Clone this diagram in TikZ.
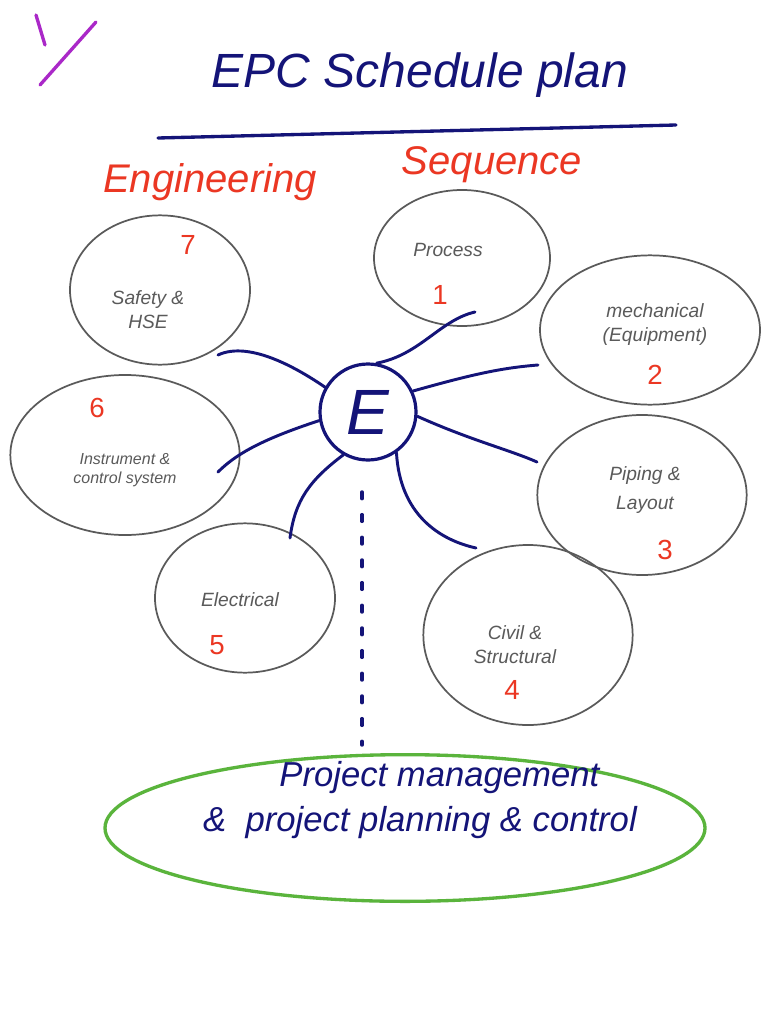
\documentclass[tikz,border=0pt]{standalone}
\usepackage{fontspec}
\setmainfont{Liberation Sans}
\usetikzlibrary{shapes.geometric}
\definecolor{navy}{RGB}{20,20,120}
\definecolor{hred}{RGB}{235,55,35}
\definecolor{hgray}{RGB}{90,90,90}
\definecolor{hgreen}{RGB}{90,180,60}
\definecolor{hpurple}{RGB}{170,40,200}
\begin{document}
\begin{tikzpicture}[x=0.75pt,y=-0.75pt,
  bub/.style={draw=hgray,line width=1.3pt,ellipse,inner sep=0pt},
  lab/.style={text=hgray,font=\Large\itshape,align=center},
  num/.style={text=hred,font=\huge},
  hd/.style={text=hred,font=\fontsize{30}{34}\selectfont\itshape},
  link/.style={draw=navy,line width=2.2pt,line cap=round}]
\useasboundingbox (0,0) rectangle (768,1024);
\fill[white] (0,0) rectangle (768,1024);
\draw[hpurple,line width=2.5pt,line cap=round] (36,15) -- (45,45) (96,22) -- (40,85);
\node[text=navy,font=\fontsize{36}{40}\selectfont\itshape] (title) at (420,75) {EPC Schedule plan};
\coordinate (ula) at (158,138); \coordinate (ulb) at (676,125);
\draw[navy,line width=2.5pt,line cap=round] (ula) -- (ulb);
\node[hd] (eng) at (210,182) {Engineering};
\node[hd] (seq) at (492,165) {Sequence};
\node[bub,minimum width=132pt,minimum height=102pt] (p) at (462,258) {};
\node[lab] at (448,250) {Process};
\node[num] (n1) at (440,295) {1};
\node[bub,minimum width=165pt,minimum height=112pt] (m) at (650,330) {};
\node[lab] at (655,325) {mechanical\\(Equipment)};
\node[num] at (655,375) {2};
\node[bub,minimum width=157pt,minimum height=120pt] (pi) at (642,495) {};
\node[lab] at (645,490) {Piping \&\\[4pt]Layout};
\node[num] at (665,550) {3};
\node[bub,minimum width=157pt,minimum height=135pt] (c) at (528,635) {};
\node[lab] at (515,645) {Civil \&\\Structural};
\node[num] at (512,690) {4};
\node[bub,minimum width=135pt,minimum height=112pt] (el) at (245,598) {};
\node[lab] at (240,600) {Electrical};
\node[num] at (217,645) {5};
\node[bub,minimum width=172pt,minimum height=120pt] (in) at (125,455) {};
\node[lab,font=\large\itshape] at (125,470) {Instrument \&\\control system};
\node[num] at (97,408) {6};
\node[bub,minimum width=135pt,minimum height=112pt] (s) at (160,290) {};
\node[lab] at (148,310) {Safety \&\\HSE};
\node[num] at (188,245) {7};
\node[draw=navy,line width=2.4pt,circle,minimum size=72pt,inner sep=0pt,text=navy,font=\fontsize{48}{48}\selectfont\itshape] (E) at (368,412) {E};
\draw[link] (E.80) .. controls (420,355) and (440,320) .. (475,312);
\draw[link] (E.25) .. controls (470,375) and (500,368) .. (538,365);
\draw[link] (E.-5) .. controls (470,440) and (510,450) .. (537,462);
\draw[link] (E.-55) .. controls (400,515) and (440,540) .. (476,548);
\draw[link] (E.-120) .. controls (310,480) and (295,500) .. (290,538);
\draw[link] (E.-170) .. controls (260,440) and (235,455) .. (218,472);
\draw[link] (E.150) .. controls (300,370) and (250,340) .. (218,355);
\node[draw=hgreen,line width=2.5pt,ellipse,minimum width=450pt,minimum height=110pt,inner sep=0pt] (pm) at (405,828) {};
\node[text=navy,font=\fontsize{26}{34}\selectfont\itshape,align=left] at (420,800) {\hspace*{2.2em}Project management\\\& \ project planning \& control};
\draw[navy,line width=2.6pt,dash pattern=on 5pt off 12pt,line cap=round] (362,492) -- (362,745);
\end{tikzpicture}
\end{document}
